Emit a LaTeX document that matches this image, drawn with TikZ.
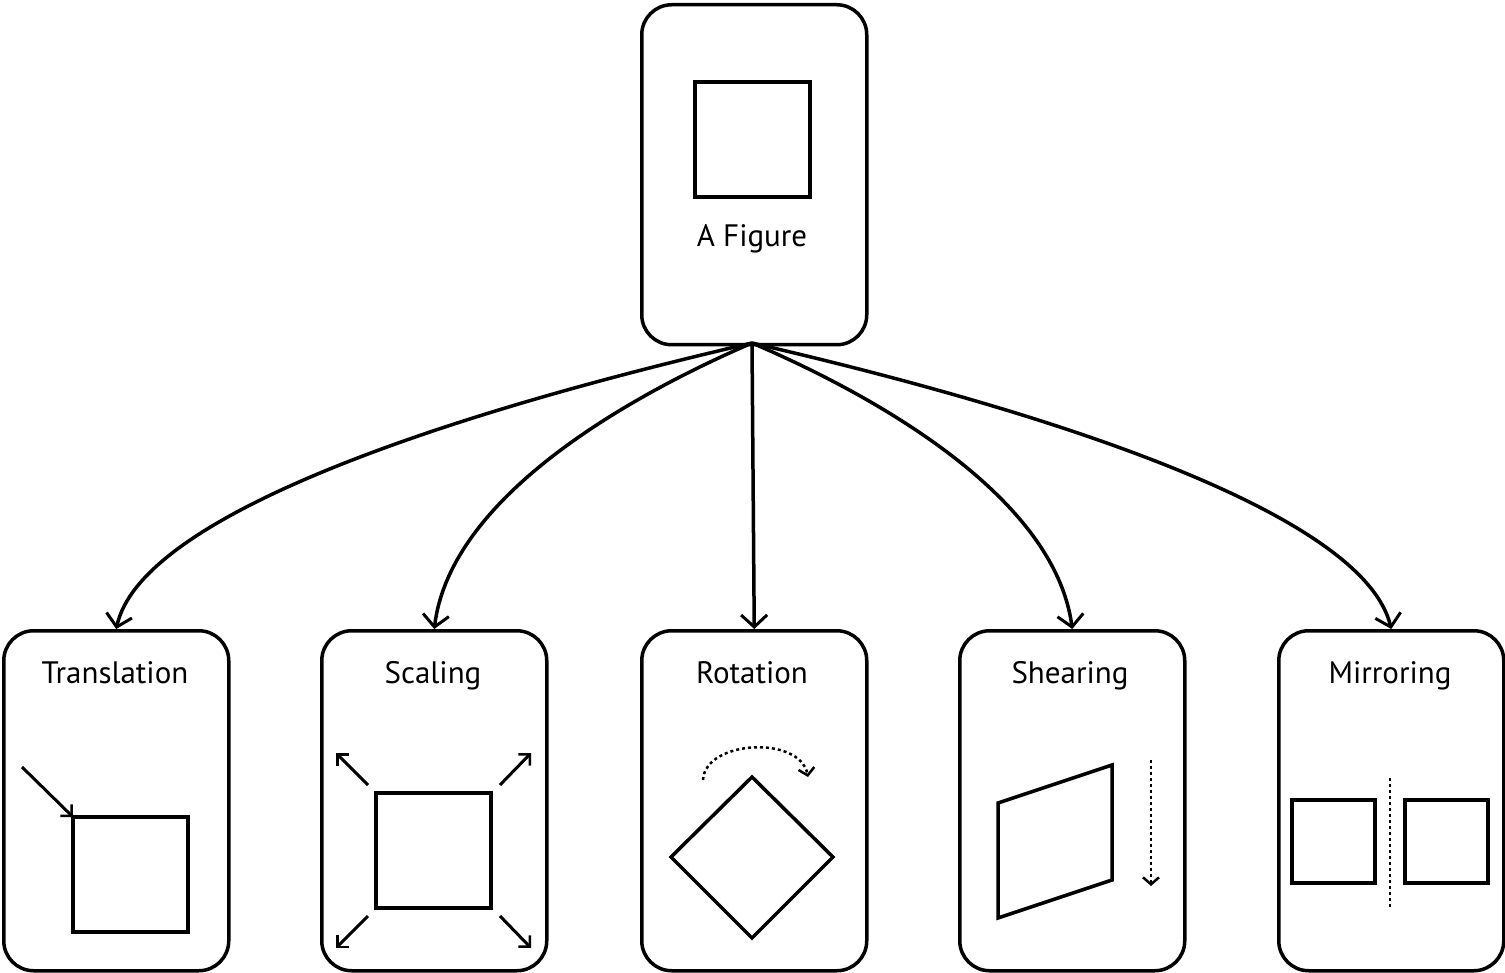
\documentclass[tikz,border=0pt]{standalone}
\usepackage{fontspec}
\setmainfont{PT Sans}
\usetikzlibrary{arrows.meta}
\begin{document}
\begin{tikzpicture}[x=1pt,y=-1pt,line width=3.5pt,
  box/.style={draw,rounded corners=30pt,minimum width=225pt,minimum height=340pt,anchor=north west,inner sep=0},
  lbl/.style={font=\fontsize{31}{34}\selectfont,anchor=base},
  arr/.style={-{Straight Barb[length=12pt,width=26pt,line width=3pt]}},
  thin/.style={line width=3pt},
  dots/.style={line width=2.5pt,dash pattern=on 3pt off 3pt}]
\useasboundingbox (0,0) rectangle (1505,973);
\node[box] (top) at (640,3) {};
\node[box] (b1) at (2,629) {};
\node[box] (b2) at (320,629) {};
\node[box] (b3) at (640,629) {};
\node[box] (b4) at (958,629) {};
\node[box] (b5) at (1277,629) {};
\node[lbl] (tl) at (752,247) {A Figure};
\node[lbl] at (115,683) {Translation};
\node[lbl] at (433,683) {Scaling};
\node[lbl] at (752,683) {Rotation};
\node[lbl] at (1070,683) {Shearing};
\node[lbl] at (1390,683) {Mirroring};
\coordinate (s) at (752,343);
\draw[arr] (s) .. controls (420,420) and (140,520) .. (b1.north);
\draw[arr] (s) .. controls (620,400) and (450,500) .. (b2.north);
\draw[arr] (s) -- (b3.north);
\draw[arr] (s) .. controls (885,400) and (1055,500) .. (b4.north);
\draw[arr] (s) .. controls (1085,420) and (1365,520) .. (b5.north);
% icons
\draw (695,82) rectangle (810,197);
\draw (73,817) rectangle (188,932);
\draw[thin,-{Straight Barb[length=8pt,width=16pt,line width=2.5pt]}] (22,767) -- (73,817);
\draw (376,793) rectangle (491,908);
\begin{scope}[thin,-{Straight Barb[length=8pt,width=16pt,line width=2.5pt]}]
\draw (368,785) -- (336,753);
\draw (500,785) -- (531,753);
\draw (368,916) -- (336,948);
\draw (500,916) -- (531,948);
\end{scope}
\draw (752,777) -- (833,857) -- (752,938) -- (671,857) -- cycle;
\draw[dots,-{Straight Barb[length=7pt,width=16pt,line width=2.5pt]}] (703,780) .. controls (705,740) and (800,735) .. (808,777);
\draw (998,803) -- (1112,765) -- (1112,880) -- (998,918) -- cycle;
\draw[dots,-{Straight Barb[length=7pt,width=16pt,line width=2.5pt]}] (1151,760) -- (1151,886);
\draw (1292,800) rectangle (1375,883);
\draw (1405,800) rectangle (1488,883);
\draw[dots] (1390,778) -- (1390,908);
\end{tikzpicture}
\end{document}
